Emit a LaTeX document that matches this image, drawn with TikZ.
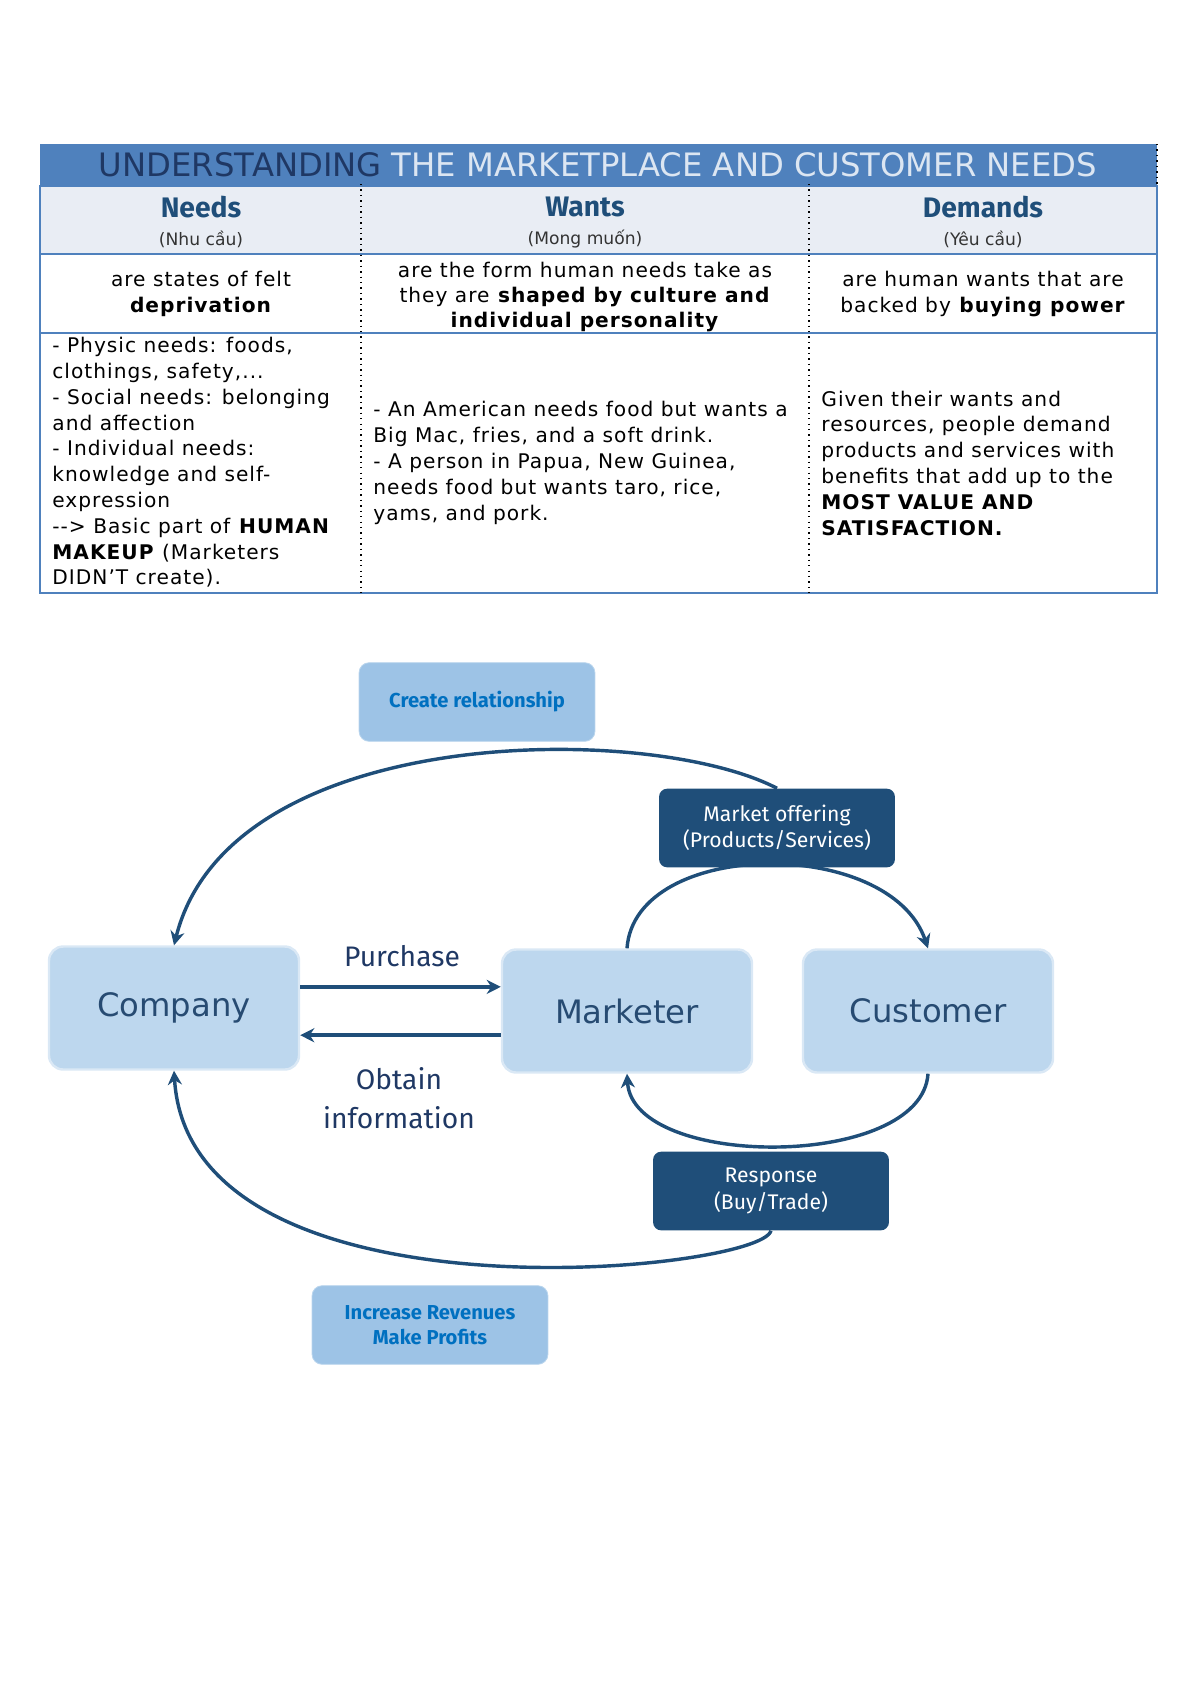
\documentclass[tikz,border=0pt]{standalone}
\usepackage{fontspec}
\setmainfont{DejaVu Sans}
\newfontfamily\cellfont{DejaVu Sans}[LetterSpace=5]
\newfontfamily\comicfont{Fira Sans}
\usetikzlibrary{arrows.meta,positioning,calc}
\definecolor{mkband}{HTML}{4F81BD}
\definecolor{mknavy}{HTML}{1F4E79}
\definecolor{mkdeep}{HTML}{1F3864}
\definecolor{mkhead}{HTML}{E9EDF4}
\definecolor{mklight}{HTML}{BDD7EE}
\definecolor{mkedge}{HTML}{DAE8F5}
\definecolor{mksky}{HTML}{9DC3E6}
\definecolor{mkink}{HTML}{0070C0}
\definecolor{mkpale}{HTML}{DCE6F2}
\definecolor{mktext}{HTML}{274B72}

\begin{document}
\begin{tikzpicture}[x=0.496pt,y=-0.496pt,
  actor/.style={fill=mklight,draw=mkedge,line width=1.2pt,rounded corners=7pt,
    minimum width=124pt,minimum height=61pt,text=mktext,
    font=\fontsize{16}{19}\selectfont},
  darkbox/.style={fill=mknavy,rounded corners=4pt,minimum width=117pt,
    minimum height=39pt,text=white,align=center,
    font=\comicfont\fontsize{10.5}{13}\selectfont},
  goalbox/.style={fill=mksky,draw=mksky!70!white,rounded corners=5pt,
    minimum width=117pt,minimum height=39pt,text=mkink,align=center,
    font=\comicfont\bfseries\fontsize{10}{12.5}\selectfont},
  flow/.style={mknavy,line width=1.7pt,-{Stealth[length=7pt,width=7pt]}},
  colhead/.style={font=\comicfont\bfseries\fontsize{14}{16}\selectfont,text=mknavy},
  colsub/.style={font=\fontsize{8.5}{10}\selectfont,text=black!80},
  cell/.style={font=\cellfont\fontsize{10}{12.8}\selectfont,inner sep=0pt},
  lbl/.style={font=\comicfont\fontsize{14}{19.5}\selectfont,text=mkdeep,align=center}]

  \useasboundingbox (0,0) rectangle (1200,1696);

  % ---- Table: title band and header row --------------------------
  \fill[mkband] (40,144) rectangle (1157,186);
  \fill[mkhead] (40,186) rectangle (1157,254);
  \node[font=\fontsize{16}{19}\selectfont] (title) at (598,165)
    {\textcolor{mkdeep}{UNDERSTANDING} \textcolor{mkpale}{THE MARKETPLACE AND CUSTOMER NEEDS}};

  % Row borders
  \draw[mkband,line width=1pt] (40,186) rectangle (1157,593);
  \draw[mkband,line width=1pt] (40,254) -- (1157,254);
  \draw[mkband,line width=1pt] (40,333) -- (1157,333);
  % Dotted column dividers
  \draw[dotted,line width=0.7pt] (361,184) -- (361,593);
  \draw[dotted,line width=0.7pt] (809,184) -- (809,593);
  \draw[dotted,line width=0.7pt] (1157,144) -- (1157,186);

  % Column headings
  \node[colhead] (needs)   at (201,207) {Needs};
  \node[colsub]  (needsvn) at (201,239) {(Nhu cầu)};
  \node[colhead] (wants)   at (585,207) {Wants};
  \node[colsub]  (wantsvn) at (585,239) {(Mong muốn)};
  \node[colhead] (demands)   at (983,207) {Demands};
  \node[colsub]  (demandsvn) at (983,239) {(Yêu cầu)};

  % Definitions
  \node[cell,align=center] (needsdef) at (201,294)
    {are states of felt\\\textbf{deprivation}};
  \node[cell,align=center,font=\cellfont\fontsize{10}{12.3}\selectfont] (wantsdef) at (585,297)
    {are the form human needs take as\\they are \textbf{shaped by culture and}\\\textbf{individual personality}};
  \node[cell,align=center] (demandsdef) at (983,294)
    {are human wants that are\\backed by \textbf{buying power}};

  % Examples
  \node[cell,align=left,anchor=north west] (needsex) at (52,337)
    {- Physic needs: foods,\\clothings, safety,...\\- Social needs: belonging\\and affection\\
     - Individual needs:\\knowledge and self-\\expression\\
     -{}-{}> Basic part of \textbf{HUMAN}\\\textbf{MAKEUP} (Marketers\\DIDN’T create).};
  \node[cell,align=left,anchor=west] (wantsex) at (373,463)
    {- An American needs food but wants a\\Big Mac, fries, and a soft drink.\\
     - A person in Papua, New Guinea,\\needs food but wants taro, rice,\\yams, and pork.};
  \node[cell,align=left,anchor=west] (demandsex) at (821,463)
    {Given their wants and\\resources, people demand\\products and services with\\
     benefits that add up to the\\\textbf{MOST VALUE AND}\\\textbf{SATISFACTION.}};

  % ---- Exchange diagram ------------------------------------------
  \node[goalbox] (relation) at (477,702) {Create relationship};
  \node[darkbox] (offer) at (777,828) {Market offering\\(Products/Services)};
  \node[actor] (company)  at (174,1008) {Company};
  \node[actor] (marketer) at (627,1011) {Marketer};
  \node[actor] (customer) at (928,1011) {Customer};
  \node[darkbox] (response) at (771,1191) {Response\\(Buy/Trade)};
  \node[goalbox] (revenue) at (430,1325) {Increase Revenues\\Make Profits};

  % Purchase / information arrows
  \node[lbl] (purchase) at (402,956) {Purchase};
  \node[lbl] (obtain) at (399,1098) {Obtain\\information};
  \coordinate (buy)  at ([yshift=10.5pt]company.east);
  \coordinate (info) at ([yshift=-12pt]marketer.west);
  \draw[flow] (buy) -- (buy -| marketer.west);
  \draw[flow] (info) -- (info -| company.east);

  % Loops
  \draw[flow] (offer.north) .. controls (650,722) and (230,722) .. (company.north);
  \draw[flow] (marketer.north) .. controls (635,838) and (890,836) .. (customer.north);
  \draw[flow] (customer.south) .. controls (922,1170) and (633,1170) .. (marketer.south);
  \draw[flow] (response.south) .. controls (760,1272) and (190,1330) .. (company.south);

\end{tikzpicture}
\end{document}
